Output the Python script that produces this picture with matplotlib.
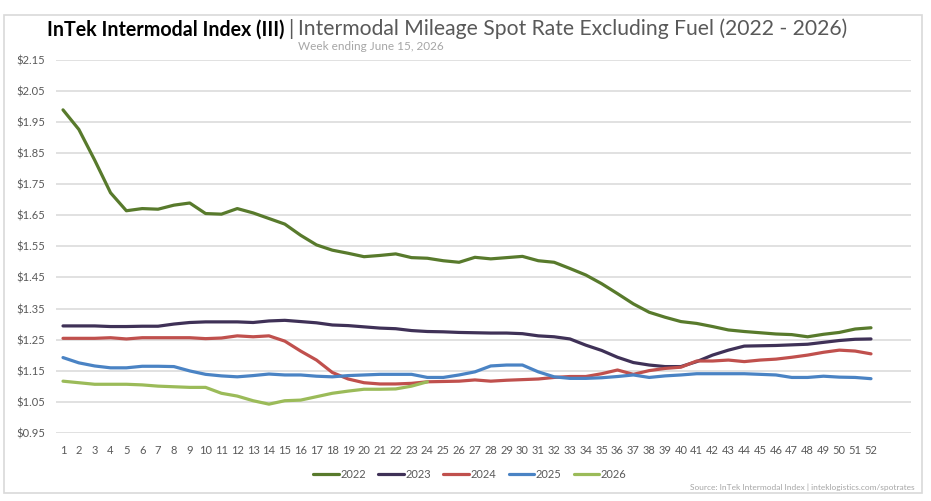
import matplotlib.pyplot as plt
from matplotlib.patches import Rectangle

plt.rcParams['font.family'] = ['Lato', 'DejaVu Sans']

weeks = list(range(1, 53))

rate_2022 = [1.990, 1.927, 1.828, 1.723, 1.665, 1.672, 1.670, 1.683, 1.690, 1.656,
             1.654, 1.672, 1.658, 1.640, 1.622, 1.586, 1.555, 1.538, 1.528, 1.517,
             1.521, 1.526, 1.514, 1.512, 1.504, 1.499, 1.515, 1.510, 1.514, 1.518,
             1.504, 1.499, 1.479, 1.458, 1.430, 1.398, 1.365, 1.338, 1.322, 1.308,
             1.302, 1.292, 1.281, 1.276, 1.272, 1.268, 1.266, 1.259, 1.267, 1.273,
             1.284, 1.288]
rate_2023 = [1.294, 1.294, 1.294, 1.292, 1.292, 1.293, 1.293, 1.300, 1.305, 1.307,
             1.307, 1.307, 1.305, 1.310, 1.312, 1.308, 1.304, 1.297, 1.295, 1.291,
             1.287, 1.285, 1.279, 1.276, 1.275, 1.273, 1.272, 1.271, 1.271, 1.269,
             1.262, 1.259, 1.252, 1.232, 1.215, 1.193, 1.176, 1.168, 1.163, 1.163,
             1.179, 1.200, 1.216, 1.229, 1.230, 1.231, 1.233, 1.235, 1.241, 1.247,
             1.251, 1.252]
rate_2024 = [1.254, 1.254, 1.254, 1.256, 1.252, 1.256, 1.256, 1.256, 1.256, 1.253,
             1.255, 1.262, 1.259, 1.262, 1.245, 1.213, 1.184, 1.144, 1.123, 1.111,
             1.107, 1.107, 1.109, 1.114, 1.115, 1.116, 1.120, 1.116, 1.119, 1.121,
             1.123, 1.128, 1.131, 1.131, 1.140, 1.152, 1.138, 1.150, 1.157, 1.161,
             1.181, 1.181, 1.184, 1.179, 1.184, 1.187, 1.193, 1.200, 1.209, 1.216,
             1.213, 1.204]
rate_2025 = [1.192, 1.175, 1.165, 1.159, 1.159, 1.164, 1.164, 1.163, 1.149, 1.138,
             1.133, 1.130, 1.134, 1.139, 1.136, 1.136, 1.132, 1.130, 1.134, 1.136,
             1.138, 1.138, 1.138, 1.128, 1.128, 1.136, 1.146, 1.165, 1.168, 1.168,
             1.146, 1.130, 1.125, 1.125, 1.127, 1.131, 1.136, 1.128, 1.133, 1.136,
             1.140, 1.140, 1.140, 1.140, 1.138, 1.136, 1.128, 1.128, 1.132, 1.129,
             1.128, 1.124]
rate_2026 = [1.116, 1.111, 1.106, 1.106, 1.106, 1.104, 1.100, 1.098, 1.096, 1.096,
             1.077, 1.068, 1.053, 1.042, 1.053, 1.055, 1.066, 1.077, 1.084, 1.090,
             1.090, 1.091, 1.100, 1.114]

series = [('2022', rate_2022, '#587A2C'),
          ('2023', rate_2023, '#3F3157'),
          ('2024', rate_2024, '#C0504D'),
          ('2025', rate_2025, '#4A83C4'),
          ('2026', rate_2026, '#9BBB59')]

y_ticks = [0.95, 1.05, 1.15, 1.25, 1.35, 1.45, 1.55, 1.65, 1.75, 1.85, 1.95, 2.05, 2.15]

fig = plt.figure(figsize=(9.31, 5.01), dpi=100)

# light border around the whole chart
fig.patches.append(Rectangle((4 / 931, 1 - 493 / 501), 918 / 931, 478 / 501,
                             transform=fig.transFigure, fill=False,
                             edgecolor='#D9D9D9', linewidth=1.2))

ax = fig.add_axes([56 / 931, (501 - 432.7) / 501, 855 / 931, 372.5 / 501])

for name, vals, color in series:
    ax.plot(weeks[:len(vals)], vals, color=color, linewidth=2.3, label=name,
            solid_capstyle='round', solid_joinstyle='round')

ax.set_ylim(0.95, 2.15)
ax.set_xlim(1 - 7 / 15.84, 52 + 40 / 15.84)
ax.set_yticks(y_ticks)
ax.set_yticklabels([f'${v:.2f}' for v in y_ticks])
ax.set_xticks(weeks)
ax.set_xticklabels([str(w) for w in weeks])
ax.tick_params(axis='both', length=0, labelsize=8, colors='#595959')
ax.tick_params(axis='y', pad=8)
ax.tick_params(axis='x', pad=9)
ax.grid(axis='y', color='#D9D9D9', linewidth=1.1)
ax.set_axisbelow(True)
for s in ax.spines.values():
    s.set_visible(False)

fig.text(47 / 931, 1 - 29.5 / 501, 'InTek Intermodal Index (III)', fontsize=14.1,
         fontweight='bold', color='black', va='center', ha='left')
fig.text(290.5 / 931, 1 - 29 / 501, '|', fontsize=15, color='#595959', va='center', ha='center')
fig.text(298 / 931, 1 - 29 / 501, 'Intermodal Mileage Spot Rate Excluding Fuel (2022 - 2026)',
         fontsize=15.2, color='#595959', va='center', ha='left')
fig.text(298 / 931, 1 - 46 / 501, 'Week ending June 15, 2026', fontsize=8.5,
         color='#A6A6A6', va='center', ha='left')

ax.legend(loc='center', bbox_to_anchor=(470 / 931, 1 - 474 / 501),
          bbox_transform=fig.transFigure, ncol=5, frameon=False, fontsize=8,
          handlelength=2.3, handletextpad=0.15, columnspacing=1.1, labelcolor='#595959')

fig.text(915 / 931, 1 - 487 / 501,
         'Source: InTek Intermodal Index | inteklogistics.com/spotrates',
         fontsize=6, color='#A6A6A6', ha='right', va='center')

fig.savefig('out.png', dpi=100)
